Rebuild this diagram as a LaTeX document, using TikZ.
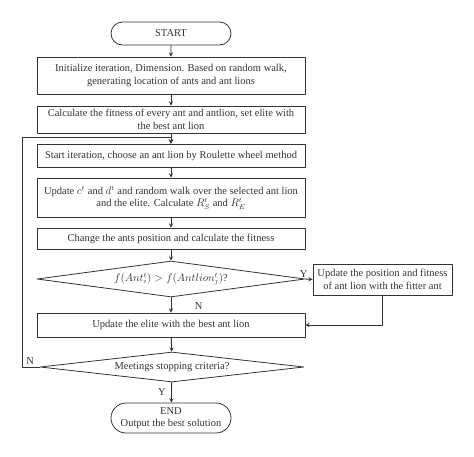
\documentclass[tikz,border=0pt]{standalone}
\usepackage{fontspec}
\setmainfont{Liberation Serif}
\usetikzlibrary{shapes.misc,shapes.geometric,arrows}
\begin{document}
\begin{tikzpicture}[x=1pt, y=1pt, line cap=round, line join=round, >=stealth, font=\fontsize{10.5}{12.5}\selectfont,
	box/.style={draw, rectangle, align=center, minimum width=268, inner sep=1pt},
	term/.style={draw, rounded rectangle, align=center, minimum width=122, inner sep=1pt},
	ask/.style={draw, diamond, aspect=8, inner sep=0pt, align=center},
	flow/.style={->, line width=0.9pt},
	every path/.style={color=black!80, line width=0.8pt}]
	\useasboundingbox (0,0) rectangle (474,-456);
	\node[term, minimum height=23] (start) at (171,-33.5) {START};
	\node[box, minimum height=37] (init) at (171,-75.5) {Initialize iteration, Dimension. Based on random walk,\\ generating location of ants and ant lions};
	\node[box, minimum height=27] (fit) at (171,-119.5) {Calculate the fitness of every ant and antlion, set elite with\\ the best ant lion};
	\node[box, minimum height=23] (iter) at (171,-155.5) {Start iteration, choose an ant lion by Roulette wheel method};
	\node[box, minimum height=39] (upd) at (171,-197.5) {Update $c^t$ and $d^t$ and random walk over the selected ant lion\\ and the elite. Calculate $R_S^t$ and $R_E^t$};
	\node[box, minimum height=21] (chg) at (171,-238.5) {Change the ants position and calculate the fitness};
	\node[ask, minimum width=268, minimum height=36] (cmp) at (171,-279) {$f(Ant_i^t) > f(Antlion_j^t)$?};
	\node[box, minimum width=139, minimum height=31] (fitter) at (382.5,-279.5) {Update the position and fitness\\ of ant lion with the fitter ant};
	\node[box, minimum height=24] (elite) at (171,-325) {Update the elite with the best ant lion};
	\node[ask, minimum width=264, minimum height=30] (stop) at (172,-367) {Meetings stopping criteria?};
	\node[term, minimum height=30] (finish) at (171,-418) {END\\ Output the best solution};
	\coordinate (back) at (22,-137);
	% main line
	\draw[flow] (start) -- (init);
	\draw[flow] (init) -- (fit);
	\draw[flow] (fit) -- (iter);
	\draw[flow] (iter) -- (upd);
	\draw[flow] (upd) -- (chg);
	\draw[flow] (chg) -- (cmp);
	\draw[flow] (cmp) -- node[right, pos=0.55, xshift=20] {N} (elite);
	\draw[flow] (cmp.east) -- node[above left, inner sep=1pt] {Y} (fitter.west);
	\draw[flow] (fitter.south) |- (elite.east);
	\draw[flow] (elite) -- (stop);
	\draw[flow] (stop) -- node[left, xshift=-2] {Y} (finish);
	% loop back
	\draw[flow] (stop.west) -| (back) -| (iter.north);
	\node[above right, inner sep=2pt] (no) at (24,-367) {N};
\end{tikzpicture}
\end{document}
